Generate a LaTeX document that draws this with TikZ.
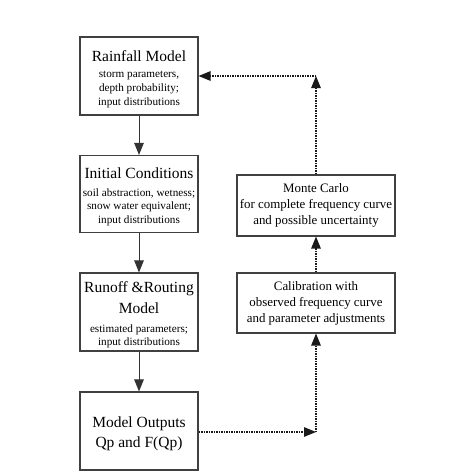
\documentclass[tikz,border=0pt]{standalone}
\usepackage{fontspec}
\setmainfont{Liberation Serif}
\usetikzlibrary{arrows.meta}
\newcommand\ttlf{\fontsize{15.5}{20}\selectfont}
\newcommand\smlf{\fontsize{11.2}{14}\selectfont}
\newcommand\midf{\fontsize{12.9}{16}\selectfont}
\newcommand\dropstrut{\rule{0pt}{17pt}}
\begin{document}
\begin{tikzpicture}[x=1pt,y=-1pt,
  box/.style={draw=black!75, line width=1.1pt, align=center, inner sep=1pt, text=black},
  lbox/.style={box, minimum width=118pt, minimum height=78pt, font=\smlf},
  rbox/.style={box, minimum width=158pt, minimum height=60pt, font=\midf},
  solidarrow/.style={-{Triangle[length=12pt,width=9.5pt]}, draw=black!80, line width=1pt},
  dotline/.style={draw=black!90, line width=1.2pt, dash pattern=on 1.5pt off 1pt},
  dotarrow/.style={dotline, -{Triangle[length=12pt,width=9.5pt,sep=0pt]}}
]
\useasboundingbox (0,0) rectangle (474,474);
\fill[white] (0,0) rectangle (474,474);

\node[lbox] (rain) at (139,76) {\ttlf\dropstrut Rainfall Model\\[2pt] storm parameters,\\ depth probability;\\ input distributions};
\node[lbox, minimum height=77pt] (init) at (139,194) {\ttlf\dropstrut Initial Conditions\\[4pt] soil abstraction, wetness;\\[-1pt] snow water equivalent;\\ input distributions};
\node[lbox] (run) at (139,312) {\ttlf\dropstrut Runoff \&Routing\\[6pt] \ttlf Model\\[5pt] estimated parameters;\\[-1pt] input distributions};
\node[lbox, font=\ttlf] (out) at (139,431) {\dropstrut Model Outputs\\ Qp and F(Qp)};

\node[rbox, minimum height=61pt] (mc) at (316,205.5) {Monte Carlo\\ for complete frequency curve\\ and possible uncertainty};
\node[rbox] (cal) at (316,303) {Calibration with\\ observed frequency curve\\ and parameter adjustments};

\coordinate (topc) at (316,76);
\coordinate (botc) at (316,432);

\draw[solidarrow] (rain) -- (init);
\draw[solidarrow] (init) -- (run);
\draw[solidarrow] (run) -- (out);

\draw[dotarrow] (out.east |- botc) -- (botc);
\draw[dotarrow] (botc) -- (cal.south);
\draw[dotarrow] (cal) -- (mc);
\draw[dotarrow] (mc.north) -- (topc);
\draw[dotarrow] (topc) -- (rain.east |- topc);
\end{tikzpicture}
\end{document}
